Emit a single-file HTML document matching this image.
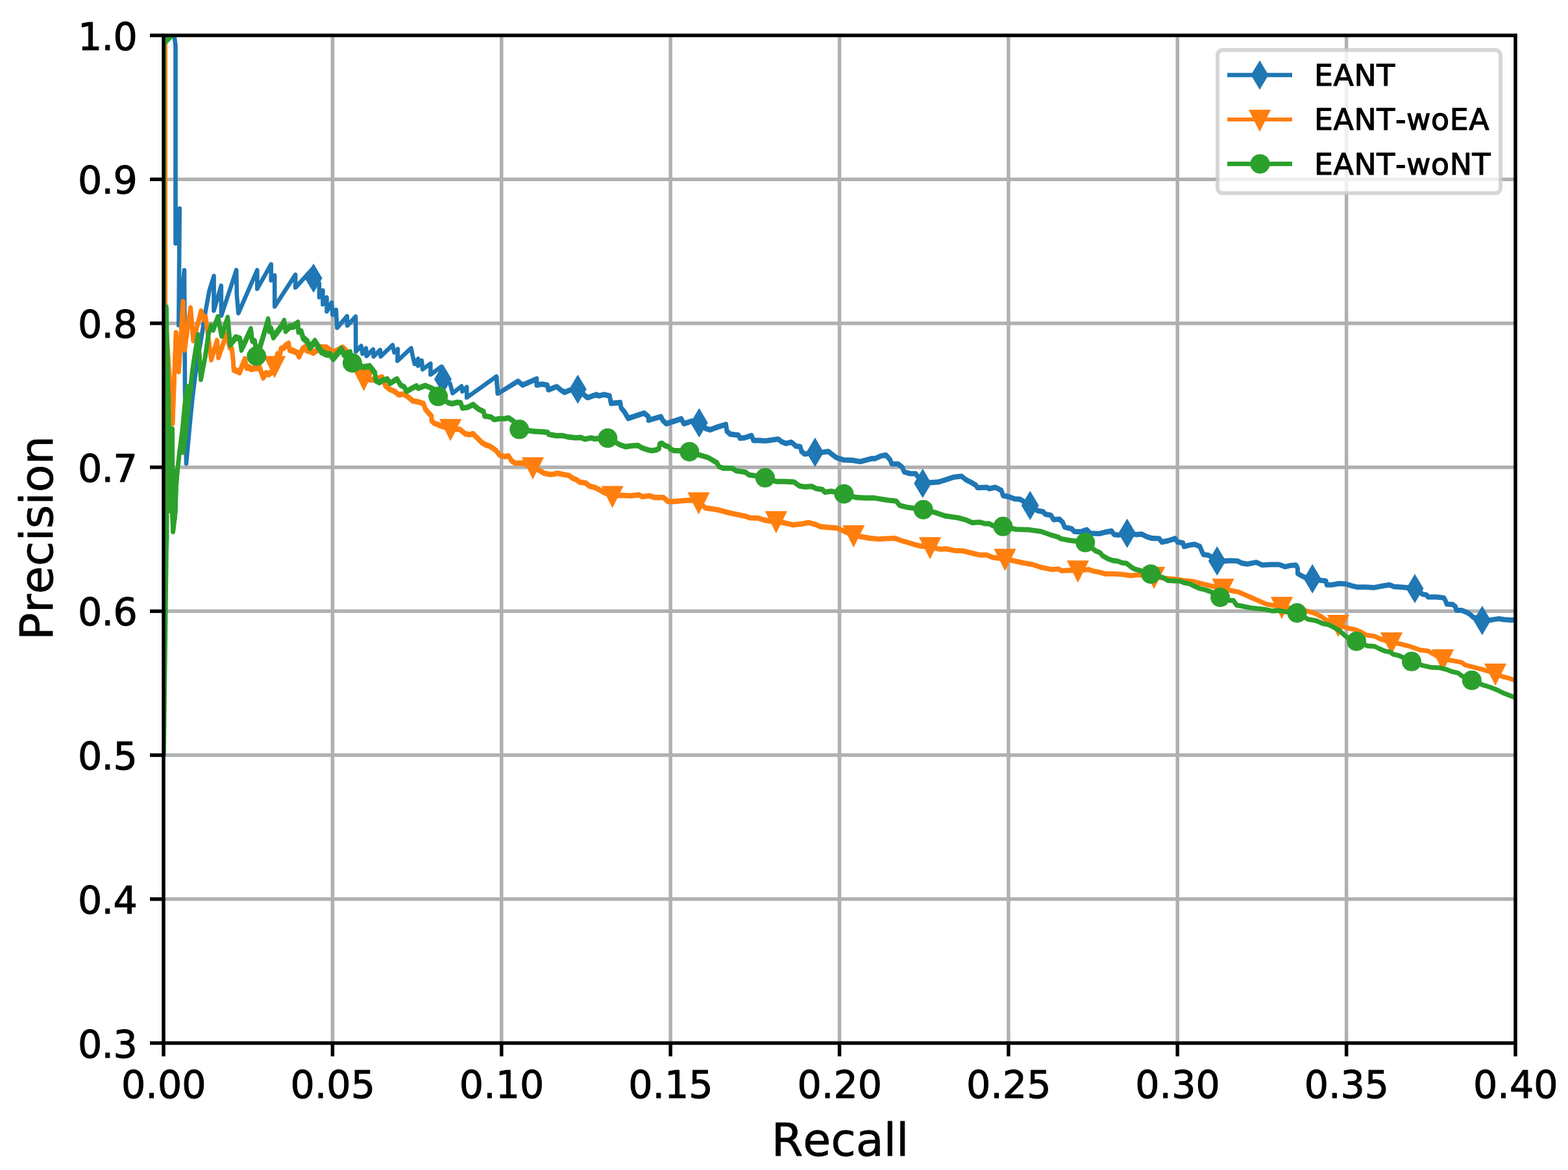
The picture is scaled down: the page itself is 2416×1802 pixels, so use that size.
<!DOCTYPE html>
<html lang="en"><head><meta charset="utf-8"><title>Precision-Recall</title>
<style>
html,body{margin:0;padding:0;background:#fff;}
body{width:2416px;height:1802px;overflow:hidden;}
svg{display:block;text-rendering:geometricPrecision;}
.tk{font-family:"DejaVu Sans","Liberation Sans",sans-serif;font-size:58.6px;fill:#000;stroke:#000;stroke-width:1.1px;stroke-linejoin:round;font-kerning:none;}
.lb{font-family:"DejaVu Sans","Liberation Sans",sans-serif;font-size:69.9px;fill:#000;stroke:#000;stroke-width:0.8px;stroke-linejoin:round;font-kerning:none;}
.lg{font-family:"DejaVu Sans","Liberation Sans",sans-serif;font-size:45.8px;letter-spacing:0.6px;fill:#000;stroke:#000;stroke-width:1.2px;stroke-linejoin:round;font-kerning:none;}
.ln{fill:none;stroke-width:6.6;stroke-linejoin:round;stroke-linecap:butt;}
</style></head><body>
<svg width="2416" height="1802" viewBox="0 0 2416 1802">
<rect x="0" y="0" width="2416" height="1802" fill="#fff"/>
<defs><clipPath id="ax"><rect x="252" y="54.5" width="2083" height="1552"/></clipPath></defs>
<g stroke="#b0b0b0" stroke-width="5.5" fill="none">
<line x1="512.38" y1="54.5" x2="512.38" y2="1606.5"/>
<line x1="772.75" y1="54.5" x2="772.75" y2="1606.5"/>
<line x1="1033.12" y1="54.5" x2="1033.12" y2="1606.5"/>
<line x1="1293.5" y1="54.5" x2="1293.5" y2="1606.5"/>
<line x1="1553.88" y1="54.5" x2="1553.88" y2="1606.5"/>
<line x1="1814.25" y1="54.5" x2="1814.25" y2="1606.5"/>
<line x1="2074.62" y1="54.5" x2="2074.62" y2="1606.5"/>
<line x1="252" y1="1384.79" x2="2335" y2="1384.79"/>
<line x1="252" y1="1163.07" x2="2335" y2="1163.07"/>
<line x1="252" y1="941.36" x2="2335" y2="941.36"/>
<line x1="252" y1="719.64" x2="2335" y2="719.64"/>
<line x1="252" y1="497.93" x2="2335" y2="497.93"/>
<line x1="252" y1="276.21" x2="2335" y2="276.21"/>
</g>
<g clip-path="url(#ax)">
<polyline class="ln" stroke="#1f77b4" points="252,54.5 268.5,54.5 270.5,70 270.5,375 276.8,321 275.3,501 284,416 285,600 287,714 291.9,660 296.6,612.6 302.4,565.4 311,516 316.5,480.7 322.6,447.3 329.6,425 329.4,478.6 340.8,440 341,486.3 364.2,416 364.9,455 367.3,482.5 396.3,416 396.3,445 417.7,407 417.7,432 423.2,424 423.2,472.3 455.2,423 455.2,443 481.7,414 483.1,440 491.9,436.2 491.9,458 497.4,447.1 497.4,468.9 503.5,458 503.5,479.8 511,466 512.5,485 517.8,477 519.3,505 534.8,487 535.2,501.5 548,487.6 548.3,541.5 556.5,532.8 558.6,545 564,536.2 564.7,548.4 574.9,538.2 575.6,549.1 585.8,538.9 586.5,549.1 604.9,531.4 607.6,543 613,537.5 612.3,555.9 633.5,536.2 636.2,549.8 638.9,560.7 644.3,552.5 644.3,563.4 649.8,555.2 651.2,568.9 663.4,560 663.4,577 679.8,564.8 682.5,583.8 693.4,590.6 697.5,605.6 711.1,594.7 712.4,602.9 719.2,596.1 719.2,612.4 764.9,579.8 766.9,606.3 798.3,586.4 805.1,592.3 826.9,582.7 826.9,592.2 835.1,590.8 843.3,592.2 844.6,599 845.4,599.3 857.6,594.5 864.4,600 869.9,603.4 878,600 890.3,598.6 902.6,609.5 905.3,611.5 918.9,606.8 923,608.8 929.8,606.8 939.3,608.8 941.4,620.4 955.7,619 957,627.2 962.5,634 967.9,643.5 992.4,635.4 999.2,640.8 999.2,646.3 1018.3,640.8 1021,646.3 1026.5,651.7 1049.6,644.2 1053.7,651.7 1066,647.6 1077.5,650.3 1087.2,659 1094,661.1 1104.9,657 1118.6,652.9 1119.9,663.1 1125.4,667.9 1137.6,669.2 1140.3,674 1147.2,673.3 1158,670 1160.8,677.5 1168.9,677.5 1179.8,678.2 1189.4,676.8 1198.9,675.5 1204.3,679.5 1211.2,682.3 1219.3,680.2 1223.4,683.6 1226.1,686.4 1232.9,687 1235,694.5 1239.8,698.6 1247.9,697.2 1255.8,695.9 1267,695.9 1276.5,694.5 1283.3,700 1288.8,704.1 1299.7,707.5 1313.3,708.1 1325.5,710.2 1343.3,705.4 1348.2,705.5 1357.7,701.4 1365.2,700.1 1371.3,706.9 1374,713.7 1383.6,713.7 1390.4,719.1 1393.1,725.9 1402.6,728.7 1410.8,728.7 1421.7,743.6 1435.3,742.3 1446.2,741.6 1457.1,738.2 1469.4,734.1 1481.6,732.7 1488.4,738.2 1496.6,742.3 1503.4,746.4 1506.1,750.4 1521.1,749.8 1523.8,751.8 1533.4,749.8 1542.9,754.5 1545.6,762.7 1553.8,764.1 1563.3,767.5 1571.5,768.1 1587.2,777.7 1598.7,785.8 1606.9,787.2 1611,791.3 1619.2,792.7 1623.3,799.5 1631.4,798.8 1632.3,798.7 1637.7,804.1 1640.4,810.9 1651.3,813.7 1655.4,817.8 1664.9,818.4 1674.5,815 1679.9,820.5 1693.5,821.2 1701.7,819.1 1712.6,817.1 1716.7,822.5 1723.5,823.2 1736.7,820.5 1750.7,822.5 1758.9,821.8 1767.1,825.9 1773.9,828 1786.1,828.7 1790.2,834.1 1799.8,832.1 1810.6,828.7 1814.7,834.1 1822.9,835.5 1824.3,840.9 1832.4,838.9 1840.6,837.5 1848.8,840.9 1851.5,847.7 1854.2,853.2 1862.4,854.5 1875.3,863.1 1886.9,863.4 1895.1,862.7 1906.8,863.2 1913.6,866.6 1921.8,868.1 1935.4,865.4 1944.9,869.5 1957.2,868.8 1970.8,868.8 1980.3,872.2 1988.5,870.2 1996.7,869.5 1999.4,874.2 1999.4,882.4 2006.2,886.5 2011.7,889.2 2022.2,890.7 2036.2,893.3 2043,894 2044.3,900.1 2052.5,900.1 2063.4,898.1 2074.3,898.8 2082.5,901.5 2090.6,903.5 2104.3,903.5 2117.9,904.2 2131.5,901.5 2141,900.1 2147.8,902.8 2158.7,903.5 2166.9,904.2 2179.8,905.7 2192.3,914.7 2197.7,915.4 2200.4,918.8 2214,918.8 2224.9,920.2 2227.7,925.6 2229,929.7 2238.6,930.4 2242.6,933.8 2244,939.2 2252.2,939.2 2260.3,942.6 2265.8,946 2269.9,950.1 2276.7,951.5 2283.8,954.9 2297.1,954.2 2309.4,952.2 2317.5,953.5 2328.4,954.2 2339.3,954.5"/>
<polyline class="ln" stroke="#1f77b4" points="764.9,579.8 766.9,606.3 798.3,587.6 805.1,593.9 826.9,584.5 826.9,594 835.1,592.6 843.3,594 844.6,600.8 845.4,601.1 857.6,596.3 864.4,601.8 869.9,605.2 878,601.8 890.3,600.4 902.6,611.3 905.3,613.3 918.9,608.6 923,610.6 929.8,608.6 939.3,610.6 941.4,622.2 955.7,620.8 957,629 962.5,635.8 967.9,645.3 992.4,637.2 999.2,642.6 999.2,648.1 1018.3,642.6 1021,648.1 1026.5,653.5 1049.6,646 1053.7,653.5 1066,649.4 1077.5,652.1 1087.2,660.8 1094,662.9 1104.9,658.8 1118.6,654.7 1119.9,664.9 1125.4,669.7 1137.6,671 1140.3,675.8 1147.2,675.1 1158,671.6 1160.8,679.1 1168.9,679.1 1179.8,679.8 1189.4,678.4 1198.9,677.1 1204.3,681.1 1211.2,683.9 1219.3,681.8 1223.4,685.2 1226.1,688 1232.9,688.6 1235,696.1 1239.8,700.2 1247.9,698.8 1255.8,697.5 1267,697.5 1276.5,696.1 1283.3,701.6 1288.8,705.7 1299.7,709.1 1313.3,709.7 1325.5,711.8 1343.3,707 1348.2,707.1 1357.7,703 1365.2,701.7 1371.3,708.5 1374,715.3 1383.6,715.3 1390.4,720.7 1393.1,727.5 1402.6,730.3 1410.8,730.3 1421.7,745.2 1435.3,743.9 1446.2,743.2 1457.1,739.8 1469.4,735.7 1481.6,734.3 1488.4,739.8 1496.6,743.9 1503.4,748 1506.1,752 1521.1,751.4 1523.8,753.4 1533.4,751.4 1542.9,756.1 1545.6,764.3 1553.8,765.7 1563.3,769.1 1571.5,769.7 1587.2,779.3 1598.7,787.4 1606.9,788.8 1611,792.9 1619.2,794.3 1623.3,801.1 1631.4,800.4 1632.3,800.3 1637.7,805.7 1640.4,812.5 1651.3,815.3 1655.4,819.4 1664.9,820 1674.5,816.6 1679.9,822.1 1693.5,822.8 1701.7,820.7 1712.6,818.7 1716.7,824.1 1723.5,824.8 1736.7,822.1 1750.7,824.1 1758.9,823.4 1767.1,827.5 1773.9,829.6 1786.1,830.3 1790.2,835.7 1799.8,833.7 1810.6,830.3 1814.7,835.7 1822.9,837.1 1824.3,842.5 1832.4,840.5 1840.6,839.1 1848.8,842.5 1851.5,849.3 1854.2,854.8 1862.4,856.1 1875.3,864.7 1886.9,865 1895.1,864.3 1906.8,864.8 1913.6,868.2 1921.8,869.5 1935.4,866.8 1944.9,870.9 1957.2,870.2 1970.8,870.2 1980.3,873.6 1988.5,871.6 1996.7,870.9 1999.4,875.6 1999.4,883.8 2006.2,887.9 2011.7,890.6 2022.2,892.1 2036.2,894.7 2043,895.4 2044.3,901.5 2052.5,901.5 2063.4,899.5 2074.3,900.2 2082.5,902.9 2090.6,904.9 2104.3,904.9 2117.9,905.6 2131.5,902.9 2141,901.5 2147.8,904.2 2158.7,904.9 2166.9,905.6 2179.8,907.1 2192.3,916.1 2197.7,916.8 2200.4,920.2 2214,920.2 2224.9,921.6 2227.7,927 2229,931.1 2238.6,931.8 2242.6,935.2 2244,940.6 2252.2,940.6 2260.3,944 2265.8,947.4 2269.9,951.5 2276.7,952.9 2283.8,956.3 2297.1,955.6 2309.4,953.6 2317.5,954.9 2328.4,955.6 2339.3,955.9"/>
<g fill="#1f77b4">
<polygon points="252,31.9 265.5,54.5 252,77.1 238.5,54.5"/>
<polygon points="483.1,405.8 496.6,428.4 483.1,451 469.6,428.4"/>
<polygon points="682.5,561.3 696,583.9 682.5,606.5 669,583.9"/>
<polygon points="890.3,576.9 903.8,599.5 890.3,622.1 876.8,599.5"/>
<polygon points="1077.3,628.6 1090.8,651.2 1077.3,673.8 1063.8,651.2"/>
<polygon points="1255.8,674.1 1269.3,696.7 1255.8,719.3 1242.3,696.7"/>
<polygon points="1421.7,721.8 1435.2,744.4 1421.7,767 1408.2,744.4"/>
<polygon points="1587.2,755.9 1600.7,778.5 1587.2,801.1 1573.7,778.5"/>
<polygon points="1736.7,798.7 1750.2,821.3 1736.7,843.9 1723.2,821.3"/>
<polygon points="1875.3,841.3 1888.8,863.9 1875.3,886.5 1861.8,863.9"/>
<polygon points="2022.2,868.8 2035.7,891.4 2022.2,914 2008.7,891.4"/>
<polygon points="2180,883.9 2193.5,906.5 2180,929.1 2166.5,906.5"/>
<polygon points="2283.8,933 2297.3,955.6 2283.8,978.2 2270.3,955.6"/>
</g>
<polyline class="ln" stroke="#ff7f0e" points="254.7,54.5 254.7,480 262,590 266,653 271.1,511.8 275.4,573 282,463.7 284.5,539.4 293.6,473.3 297.9,524.7 309.9,478.1 313.5,491.3 316.8,487 325.5,553.3 334.4,523.6 336.5,549.2 349.2,513.1 354,533.4 357.2,535.7 359,550 360.1,567.6 369.2,571.6 377.2,551.7 380.1,564.7 383.7,564 386.6,566.5 391.7,565.4 396.1,565.4 398.3,559.6 405.5,579.6 409.9,573 414.2,574.5 419.3,571.2 423.1,562 427.3,544.2 431.7,542.7 433.1,535.5 437.5,534 440.4,530.4 444.7,527.8 446.2,537.2 452,539 457.8,541.6 460.7,547.4 466.5,535.5 471.6,532.2 472.3,537.9 478.1,539.4 482.5,541.6 486.9,538.7 493.1,533.4 503.3,533.9 513.5,541.5 528,533.8 532.7,538.4 544.9,554.8 560.6,582.2 576.3,583.5 588.6,579.7 594,593.4 600.9,598.9 607.7,601.6 614.5,607.1 621.3,605.7 628.1,609.8 636.3,616.6 644.4,618 652.6,620.7 655.3,628.9 660.8,635.7 664.9,639.8 664.9,646.6 668.9,650.7 675.8,653.4 682.6,656.1 694.1,659.7 708.4,660.2 716.6,667 723.4,668.4 728.9,667 734.3,672.5 742.5,680.6 747.9,684 754.7,686.2 764.3,693 769.7,699.8 777.9,702.5 783.3,701.2 788.8,709.3 794.2,712.7 805.1,712 820.9,719 831.7,723.9 838.6,728 848.1,730 853.5,729.3 859,728 868.5,730 876.7,731.4 882.1,735.5 887.6,737.5 893,741.6 902.6,742.9 908,747.7 916.2,749.7 924.3,753.8 929.8,757.2 943.5,763 957,762 970.6,762.7 984.3,761.3 989.7,764 1000.6,762.7 1008.8,765.4 1022.4,765.4 1029.2,771.5 1038.7,771.5 1052.4,770.3 1066,769.6 1076.6,773.1 1087.2,781.7 1098.1,783 1109,785.1 1121.3,788.5 1133.5,791.2 1147.2,793.9 1155.3,796.7 1168.9,797.3 1177.1,800.1 1188,802.1 1195.9,802 1209.8,804.8 1222.1,807.6 1234.3,806.2 1246.6,804.1 1256.1,806.9 1264.3,810.3 1277.9,811.6 1288.8,812.3 1296.9,815.7 1315.2,823.8 1340,828.1 1353.6,829.5 1367.2,828.8 1378.1,828.2 1387.7,831.6 1397.2,834.3 1408.1,837.7 1419,840.4 1433,842.1 1448.9,845.2 1457.1,844.5 1470.7,847.2 1484.3,847.9 1498,851.3 1508.9,854 1519.8,854 1530.6,858.1 1548.5,860 1564.7,863.6 1576.9,866.3 1591.9,869.1 1604.2,873.2 1617.8,875.9 1620,876.5 1630.9,875.8 1636.3,878.6 1644.5,877.9 1660.9,878.1 1677.2,876.5 1685.4,879.2 1693.5,880.6 1703.1,883.3 1715.3,883.3 1728.9,884 1742.6,886 1753.5,884.8 1761.6,886.1 1778.2,888.1 1797,890.2 1810.6,891.6 1824.3,893.6 1837.9,895 1851.5,898.4 1865.1,901.8 1884.5,906.2 1900,909.8 1908.2,911.2 1919.1,916.1 1930,920.8 1940.9,925.6 1950.4,929.7 1959.9,931.7 1975,934.3 1995.3,937.2 2015.8,941.3 2025.3,944 2036.2,949.4 2044.3,954.9 2061.9,962.2 2077,967.1 2087.9,969.2 2096.1,972.6 2104.3,977.4 2117.9,979.4 2126.1,983.5 2144,989.2 2156.9,991.3 2173.2,995.5 2188.2,1000.9 2200.4,1002.3 2223.2,1015.3 2238.6,1017.2 2252.2,1020 2257.6,1024 2271.2,1027.5 2284.9,1030.9 2304.1,1037.3 2314.8,1041.8 2325.7,1044.5 2339.3,1049.2"/>
<polyline class="ln" stroke="#ff7f0e" points="262,590 266,653 271.1,511.8 275.4,573 282,463.9 284.5,539.8 293.6,473.9 297.9,525.5 309.9,479.3 313.5,492.7 316.8,488.6 325.5,555.1 334.4,525.8 336.5,551.6 349.2,515.9 354,536.6 357.2,538.9 359,553.4 360.1,571 369.2,575 377.2,555.1 380.1,568.1 383.7,567.4 386.6,569.9 391.7,568.8 396.1,568.8 398.3,563 405.5,583 409.9,576.4 414.2,577.9 419.3,574.6 423.1,565.4 427.3,547.4 431.7,545.9 433.1,538.7 437.5,537.2 440.4,533.6 444.7,531 446.2,540.4 452,542.2 457.8,544.8 460.7,550.6 466.5,538.7 471.6,535.4 472.3,541.1 478.1,542.6 482.5,544.8 486.9,541.9 493.1,536.6 503.3,537.5 513.5,545.3 528,537.6 532.7,542.2 544.9,558.4 560.6,585.4 576.3,586.3 588.6,582.1 594,595.6 600.9,600.9 607.7,603.6 614.5,609.1 621.3,607.7 628.1,611.8 636.3,618.6 644.4,620 652.6,622.7 655.3,630.9 660.8,637.7 664.9,641.8 664.9,648.6 668.9,652.7 675.8,655.4 682.6,658.1 694.1,661.7 708.4,662.2 716.6,669 723.4,670.4 728.9,669 734.3,674.5 742.5,682.6 747.9,686 754.7,688 764.3,694.8 769.7,701.6 777.9,704.3 783.3,703 788.8,711.1 794.2,714.5 805.1,713.8 820.9,720.8 831.7,725.7 838.6,729.8 848.1,731.8 853.5,731.1 859,729.8 868.5,731.8 876.7,733.2 882.1,737.3 887.6,739.3 893,743.4 902.6,744.7 908,749.5 916.2,751.5 924.3,755.6 929.8,759 943.5,764.8 957,763.8 970.6,764.5 984.3,763.1 989.7,765.8 1000.6,764.5 1008.8,767.2 1022.4,767.2 1029.2,773.3 1038.7,773.3 1052.4,771.9 1066,771.2 1076.6,774.7 1087.2,783.3 1098.1,784.6 1109,786.7 1121.3,790.1 1133.5,792.8 1147.2,795.5 1155.3,798.3 1168.9,798.9 1177.1,801.7 1188,803.7 1195.9,803.6 1209.8,806.4 1222.1,809.2 1234.3,807.8 1246.6,805.7 1256.1,808.5 1264.3,811.9 1277.9,813.2 1288.8,813.9 1296.9,817.3 1315.2,825.4 1340,829.7 1353.6,830.9 1367.2,830.2 1378.1,829.6 1387.7,833 1397.2,835.7 1408.1,839.1 1419,841.8 1433,843.5 1448.9,846.6 1457.1,845.9 1470.7,848.6 1484.3,849.3 1498,852.7 1508.9,855.4 1519.8,855.4 1530.6,859.5 1548.5,861.4 1564.7,865 1576.9,867.7 1591.9,870.3 1604.2,874.4 1617.8,877.1 1620,877.7 1630.9,877 1636.3,879.8 1644.5,879.1 1660.9,879.3 1677.2,877.7 1685.4,880.4 1693.5,881.8 1703.1,884.5 1715.3,884.5 1728.9,885.2 1742.6,887.2 1753.5,885.8 1761.6,887.1 1778.2,889.1 1797,891.2 1810.6,892.6 1824.3,894.6 1837.9,896 1851.5,899.4 1865.1,902.8 1884.5,907.2 1900,910.8 1908.2,912.2 1919.1,916.9 1930,921.6 1940.9,926.4 1950.4,930.5 1959.9,932.5 1975,935.1 1995.3,938 2015.8,942.1 2025.3,944.8 2036.2,950.2 2044.3,955.7 2061.9,963 2077,967.9 2087.9,970 2096.1,973.4 2104.3,978.2 2117.9,980.2 2126.1,984.3 2144,990 2156.9,992.1 2173.2,996.1 2188.2,1001.5 2200.4,1002.9 2223.2,1015.9 2238.6,1017.8 2252.2,1020.6 2257.6,1024.6 2271.2,1028.1 2284.9,1031.5 2304.1,1037.9 2314.8,1042.4 2325.7,1045.1 2339.3,1049.8"/>
<g fill="#ff7f0e">
<polygon points="237.6,39 271.8,39 254.7,73.2"/>
<polygon points="406,548.2 440.2,548.2 423.1,582.4"/>
<polygon points="543.5,568.2 577.7,568.2 560.6,602.4"/>
<polygon points="677,645.2 711.2,645.2 694.1,679.4"/>
<polygon points="803.9,704.2 838.1,704.2 821,738.4"/>
<polygon points="926.5,748.4 960.7,748.4 943.6,782.6"/>
<polygon points="1059.4,758.3 1093.6,758.3 1076.5,792.5"/>
<polygon points="1178.8,787.3 1213,787.3 1195.9,821.5"/>
<polygon points="1298.1,809.1 1332.3,809.1 1315.2,843.3"/>
<polygon points="1415.9,827.3 1450.1,827.3 1433,861.5"/>
<polygon points="1531.4,845.2 1565.6,845.2 1548.5,879.4"/>
<polygon points="1643.8,863.3 1678,863.3 1660.9,897.5"/>
<polygon points="1761.1,873.1 1795.3,873.1 1778.2,907.3"/>
<polygon points="1867.4,891.2 1901.6,891.2 1884.5,925.4"/>
<polygon points="1957.9,919.2 1992.1,919.2 1975,953.4"/>
<polygon points="2044.8,947.1 2079,947.1 2061.9,981.3"/>
<polygon points="2126.9,974 2161.1,974 2144,1008.2"/>
<polygon points="2206.1,1000.1 2240.3,1000.1 2223.2,1034.3"/>
<polygon points="2287,1022.1 2321.2,1022.1 2304.1,1056.3"/>
</g>
<polyline class="ln" stroke="#2ca02c" points="252.5,54.5 252.5,1163 256.5,840 256.3,472 259.5,620 262,725 265.4,660 266.6,819 270,790 271.5,749 273.5,724 276.8,694.5 281,680.9 287,641.7 293.2,597.6 296.8,568.5 300,546.5 305.2,514.7 309.5,583.6 316.3,548.1 321.5,512 325.5,500.5 328.5,506.8 335.7,487.2 341.5,515.7 350.9,488.1 354.6,529.3 363.3,518 369.8,520.1 372,536.3 386.5,505.4 388.5,522 392.5,524 394,532 395.2,546.5 402,528 408,508 413.2,490.5 415.1,507.5 417.6,504.5 421.2,517 433.6,500.8 437.9,492.7 440.1,507.2 445.9,501.6 452.5,500.5 459,495.6 459.7,508.3 464.1,508.8 467,518.6 473.5,524.1 477.9,533.3 485.1,523.6 495.3,540.1 503.3,543.7 509.1,544.1 513.5,550.4 525.8,535.7 530.2,544.5 539.6,541 542.9,557.3 559.9,564 569.5,562.4 577.7,572.7 579.1,585 584.5,587.8 588.6,585.2 596.8,582.6 600.9,589.4 611.7,582.6 617.2,592.1 622.6,594.8 626.7,601.6 636.3,596.2 641.7,593.5 644.4,596.9 655.3,592.8 663.5,596.2 668.9,598.9 675.1,609.8 690.7,619.3 696.2,620.7 704.3,618.7 709.8,619.3 712.5,627.5 720.7,626.2 728.9,622.1 737,628.9 745.2,633 746.6,639.8 756.1,641.2 761.5,645.3 769.7,644 777.9,644 783.3,642.6 791.5,648 799.9,660.3 820.9,663.3 831.7,664 839.9,664.6 844,665.3 845.4,668 856.3,670.1 867.2,670.1 875.3,672.1 887.6,673.5 894.4,672.8 901.2,675.5 910.7,673.5 916.2,674.9 936.3,673.9 955.7,684.4 963.8,687.1 973.4,685.7 982.9,685.1 988.4,688.5 997.9,691.9 1004.7,693.2 1011.5,691.9 1015.6,689.8 1016.3,683 1019.7,681.7 1025.1,685.7 1030.6,687.1 1033.3,691.2 1038.7,693.2 1045.5,693.2 1062.6,694.7 1077.7,700 1091.3,704.1 1098.1,708.1 1104.9,712.2 1107.7,717.7 1114.5,720.4 1128.1,720.4 1134.9,724.5 1148.5,726.5 1154,730.6 1163.5,732 1178.9,735 1196.2,740.8 1209.8,740.8 1223.4,741.5 1231.6,747.6 1239.8,749 1250.6,748.3 1257.5,751.7 1267,753.1 1271.1,757.2 1280.6,755.8 1288.8,757.8 1300.4,759.9 1318.7,765.3 1332.4,766 1346,766 1350.9,766.9 1367.2,769.6 1380.9,771 1386.3,777.8 1397.2,780.5 1422.7,784.2 1440.8,788.7 1457.1,794.1 1476.2,796.8 1487.1,799.6 1498,804.3 1510.2,803.6 1517,805.7 1523.8,805.7 1530.6,809.1 1545.4,810 1564.7,814.5 1585.1,815.3 1604.2,818 1617.8,822.8 1631.4,826.9 1633.6,828.9 1647.2,831.6 1658.1,832.9 1672.2,835 1688.1,847.9 1694.9,850.6 1699,855.4 1707.2,860.2 1715.3,862.9 1722.1,863.6 1728.9,866.3 1735.8,867 1742.6,872.4 1748,875.8 1756.2,878 1773.2,883.7 1791.6,888.9 1799.8,893.6 1810.6,894.3 1817.5,894.3 1824.3,897 1832.4,898.4 1840.6,902.5 1848.8,905.9 1856.9,907.9 1865.1,910.7 1880.1,919.5 1895.1,924.3 1900.5,924.3 1905.4,931.6 1913.6,933 1927.2,935.8 1940.9,937.2 1951.7,938.5 1959.9,940.6 1970.8,939.9 1981.7,941.9 1998.5,943.7 2015.8,953.5 2028,955.6 2038.9,960.3 2047.1,961.7 2055.2,965.8 2063.4,970.5 2071.6,978 2078.4,983.5 2090,987.3 2107,994.4 2117.9,995.1 2126.1,999.1 2134.2,1002.5 2142.4,1003.9 2146.5,1007.3 2156,1009.4 2162.8,1012.8 2174.8,1018.3 2192.3,1024.7 2204.5,1027.5 2218.1,1028.1 2229,1030.9 2235.8,1033.6 2246.7,1036.3 2252.2,1040.4 2267.8,1047.5 2284.9,1054.7 2295.8,1058.1 2306.6,1062.2 2317.5,1067.6 2328.4,1071.7 2339.3,1075.8"/>
<polyline class="ln" stroke="#2ca02c" points="262,725 265.4,660 266.6,819 270,790 271.5,749 273.5,724 276.8,694.5 281,681.1 287,642.3 293.2,598.4 296.8,569.5 300,547.5 305.2,516.1 309.5,585.2 316.3,549.9 321.5,514 325.5,502.7 328.5,509.2 335.7,489.8 341.5,518.5 350.9,491.1 354.6,532.5 363.3,521.4 369.8,523.7 372,540.1 386.5,509.4 388.5,526 392.5,528 394,536 395.2,550.5 402,532 408,512 413.2,494.5 415.1,511.5 417.6,508.5 421.2,521 433.6,504.8 437.9,496.7 440.1,511.2 445.9,505.6 452.5,504.5 459,499.6 459.7,512.3 464.1,512.8 467,522.6 473.5,528.1 477.9,537.3 485.1,527.6 495.3,544.1 503.3,547.7 509.1,548.1 513.5,554.4 525.8,539.5 530.2,548.3 539.6,544.6 542.9,560.7 559.9,567 569.5,565.2 577.7,575.3 579.1,587.6 584.5,590.2 588.6,587.4 596.8,584.6 600.9,591.4 611.7,584.6 617.2,594.1 622.6,596.8 626.7,603.6 636.3,598.2 641.7,595.5 644.4,598.9 655.3,594.8 663.5,598.2 668.9,600.9 675.1,611.8 690.7,621.3 696.2,622.7 704.3,620.7 709.8,621.3 712.5,629.5 720.7,628.2 728.9,624.1 737,630.9 745.2,635 746.6,641.8 756.1,643 761.5,647.1 769.7,645.8 777.9,645.8 783.3,644.4 791.5,649.8 799.9,662.1 820.9,665.1 831.7,665.8 839.9,666.4 844,667.1 845.4,669.8 856.3,671.9 867.2,671.9 875.3,673.9 887.6,675.3 894.4,674.6 901.2,677.3 910.7,675.3 916.2,676.7 936.3,675.7 955.7,686.2 963.8,688.9 973.4,687.5 982.9,686.9 988.4,690.3 997.9,693.7 1004.7,695 1011.5,693.7 1015.6,691.6 1016.3,684.8 1019.7,683.5 1025.1,687.5 1030.6,688.9 1033.3,693 1038.7,695 1045.5,695 1062.6,696.3 1077.7,701.6 1091.3,705.7 1098.1,709.7 1104.9,713.8 1107.7,719.3 1114.5,722 1128.1,722 1134.9,726.1 1148.5,728.1 1154,732.2 1163.5,733.6 1178.9,736.6 1196.2,742.4 1209.8,742.4 1223.4,743.1 1231.6,749.2 1239.8,750.6 1250.6,749.9 1257.5,753.3 1267,754.7 1271.1,758.8 1280.6,757.4 1288.8,759.4 1300.4,761.5 1318.7,766.9 1332.4,767.6 1346,767.6 1350.9,768.3 1367.2,771 1380.9,772.4 1386.3,779.2 1397.2,781.9 1422.7,785.6 1440.8,790.1 1457.1,795.5 1476.2,798.2 1487.1,801 1498,805.7 1510.2,805 1517,807.1 1523.8,807.1 1530.6,810.5 1545.4,811.4 1564.7,815.9 1585.1,816.5 1604.2,819.2 1617.8,824 1631.4,828.1 1633.6,830.1 1647.2,832.8 1658.1,834.1 1672.2,836.2 1688.1,849.1 1694.9,851.8 1699,856.6 1707.2,861.4 1715.3,864.1 1722.1,864.8 1728.9,867.5 1735.8,868.2 1742.6,873.6 1748,877 1756.2,879 1773.2,884.7 1791.6,889.9 1799.8,894.6 1810.6,895.3 1817.5,895.3 1824.3,898 1832.4,899.4 1840.6,903.5 1848.8,906.9 1856.9,908.9 1865.1,911.7 1880.1,920.5 1895.1,925.3 1900.5,925.3 1905.4,932.6 1913.6,934 1927.2,936.6 1940.9,938 1951.7,939.3 1959.9,941.4 1970.8,940.7 1981.7,942.7 1998.5,944.5 2015.8,954.3 2028,956.4 2038.9,961.1 2047.1,962.5 2055.2,966.6 2063.4,971.3 2071.6,978.8 2078.4,984.3 2090,988.1 2107,995.2 2117.9,995.9 2126.1,999.9 2134.2,1003.3 2142.4,1004.7 2146.5,1008.1 2156,1010.2 2162.8,1013.6 2174.8,1018.9 2192.3,1025.3 2204.5,1028.1 2218.1,1028.7 2229,1031.5 2235.8,1034.2 2246.7,1036.9 2252.2,1041 2267.8,1048.1 2284.9,1055.3 2295.8,1058.7 2306.6,1062.8 2317.5,1068.2 2328.4,1072.3 2339.3,1076.4"/>
<polygon fill="#2ca02c" points="255,470 257.5,470 259.8,475 259.8,587 263.1,612.6 263.2,656.3 268.9,659.1 268.9,721.7 270.6,721.7 274,749 273.4,789.8 272,803.4 269.3,821.1 266.6,823.2 263.4,821.1 261.8,789.8 260.4,791.2 260.4,830.7 259.1,847 255,847"/>
<polyline fill="none" stroke="#2ca02c" stroke-width="12.5" stroke-linejoin="round" points="279,700 284,660 288,618 292.5,592"/>
<g fill="#2ca02c">
<polygon points="252,54.5 270.6,54.5 252,73"/>
<circle cx="395.2" cy="548.5" r="15"/>
<circle cx="542.9" cy="559" r="15"/>
<circle cx="675.1" cy="610.6" r="15"/>
<circle cx="800.2" cy="661.3" r="15"/>
<circle cx="936.3" cy="674.8" r="15"/>
<circle cx="1062.3" cy="695.7" r="15"/>
<circle cx="1178.9" cy="735.8" r="15"/>
<circle cx="1300.4" cy="760.7" r="15"/>
<circle cx="1422.7" cy="784.9" r="15"/>
<circle cx="1545.4" cy="810.8" r="15"/>
<circle cx="1672.2" cy="835.6" r="15"/>
<circle cx="1773.2" cy="884.2" r="15"/>
<circle cx="1880.1" cy="920" r="15"/>
<circle cx="1998.5" cy="944.1" r="15"/>
<circle cx="2090" cy="987.7" r="15"/>
<circle cx="2175" cy="1018.8" r="15"/>
<circle cx="2267.8" cy="1047.8" r="15"/>
</g>
</g>
<g stroke="#000" stroke-width="5.5" fill="none">
<rect x="252" y="54.5" width="2083" height="1552" stroke-linejoin="miter"/>
<line x1="252" y1="1606.5" x2="252" y2="1627"/>
<line x1="512.38" y1="1606.5" x2="512.38" y2="1627"/>
<line x1="772.75" y1="1606.5" x2="772.75" y2="1627"/>
<line x1="1033.12" y1="1606.5" x2="1033.12" y2="1627"/>
<line x1="1293.5" y1="1606.5" x2="1293.5" y2="1627"/>
<line x1="1553.88" y1="1606.5" x2="1553.88" y2="1627"/>
<line x1="1814.25" y1="1606.5" x2="1814.25" y2="1627"/>
<line x1="2074.62" y1="1606.5" x2="2074.62" y2="1627"/>
<line x1="2335" y1="1606.5" x2="2335" y2="1627"/>
<line x1="231" y1="1606.5" x2="252" y2="1606.5"/>
<line x1="231" y1="1384.79" x2="252" y2="1384.79"/>
<line x1="231" y1="1163.07" x2="252" y2="1163.07"/>
<line x1="231" y1="941.36" x2="252" y2="941.36"/>
<line x1="231" y1="719.64" x2="252" y2="719.64"/>
<line x1="231" y1="497.93" x2="252" y2="497.93"/>
<line x1="231" y1="276.21" x2="252" y2="276.21"/>
<line x1="231" y1="54.5" x2="252" y2="54.5"/>
</g>
<g class="tk" text-anchor="middle">
<text x="252.3" y="1691">0.00</text>
<text x="512.7" y="1691">0.05</text>
<text x="773" y="1691">0.10</text>
<text x="1033.4" y="1691">0.15</text>
<text x="1293.8" y="1691">0.20</text>
<text x="1554.2" y="1691">0.25</text>
<text x="1814.5" y="1691">0.30</text>
<text x="2074.9" y="1691">0.35</text>
<text x="2335.3" y="1691">0.40</text>
</g>
<g class="tk" text-anchor="end" style="letter-spacing:-0.7px">
<text x="211" y="1628.5">0.3</text>
<text x="211" y="1406.8">0.4</text>
<text x="211" y="1185.1">0.5</text>
<text x="211" y="963.4">0.6</text>
<text x="211" y="741.6">0.7</text>
<text x="211" y="519.9">0.8</text>
<text x="211" y="298.2">0.9</text>
<text x="211" y="76.5">1.0</text>
</g>
<text class="lb" text-anchor="middle" x="1294.5" y="1779.6">Recall</text>
<text class="lb" text-anchor="middle" transform="translate(80.5 828.6) rotate(-90)">Precision</text>
<g>
<rect x="1876" y="77" width="436" height="220.6" rx="8" ry="8" fill="#fff" fill-opacity="0.8" stroke="#ccc" stroke-opacity="0.8" stroke-width="6"/>
<rect x="1891" y="112.25" width="100" height="6.6" fill="#1f77b4"/>
<polygon fill="#1f77b4" points="1941,92.9 1954.5,115.5 1941,138.2 1927.5,115.5"/>
<text class="lg" x="2025" y="131.8">EANT</text>
<rect x="1891" y="181" width="100" height="6" fill="#ff7f0e"/>
<polygon fill="#ff7f0e" points="1923.9,168.9 1958.1,168.9 1941,203.1"/>
<text class="lg" x="2025" y="199.8">EANT-woEA</text>
<rect x="1891" y="248.95" width="100" height="6.9" fill="#2ca02c"/>
<circle fill="#2ca02c" cx="1941.5" cy="252.4" r="15"/>
<text class="lg" x="2025" y="268.8">EANT-woNT</text>
</g>
</svg>
</body></html>
